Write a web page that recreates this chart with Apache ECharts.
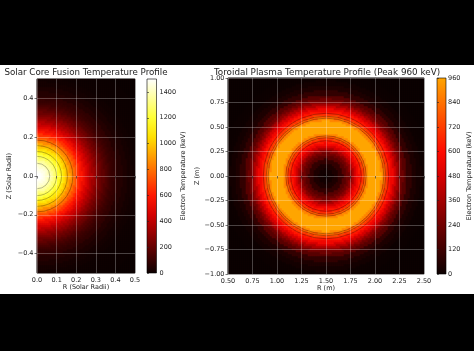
<!DOCTYPE html>
<html>
<head>
<meta charset="utf-8">
<script src="https://cdn.jsdelivr.net/npm/echarts@6/dist/echarts.min.js"></script>
<style>
  html, body { margin: 0; padding: 0; background: #000; }
  #band { position: absolute; left: 0; top: 65px; width: 474px; height: 229px; background: #fff; }
  #main { position: absolute; left: 0; top: 0; width: 474px; height: 351px; }
</style>
</head>
<body>
<div id="band"></div>
<div id="main"></div>
<script>
// ---- left panel: solar core, temperature read along the radius from (0,0)
var coreRadius = [0, 0.0125, 0.025, 0.0375, 0.05, 0.0625, 0.075, 0.0875, 0.1, 0.1125, 0.125, 0.1375,
    0.15, 0.1625, 0.175, 0.1875, 0.2, 0.2125, 0.225, 0.2375, 0.25, 0.2625, 0.275, 0.2875,
    0.3, 0.3125, 0.325, 0.3375, 0.35, 0.3625, 0.375, 0.3875, 0.4, 0.425, 0.45, 0.475,
    0.5, 0.525, 0.55, 0.575, 0.6, 0.65, 0.7, 0.75];
var coreTemp = [1500, 1496, 1483, 1462, 1434, 1397, 1355, 1306, 1251, 1193, 1131, 1066,
    998, 930, 861, 794, 727, 662, 599, 540, 484, 431, 381, 335,
    294, 256, 221, 191, 163, 139, 117, 99, 83, 57, 38, 25,
    16, 10, 6, 4, 2, 1, 0, 0];
var coreCenter = [0, 0];
var coreContours = [0.065, 0.1, 0.125, 0.155, 0.183];
var coreXTicks = [0, 0.1, 0.2, 0.3, 0.4, 0.5];
var coreYTicks = [-0.4, -0.2, 0, 0.2, 0.4];
var coreCbarTicks = [0, 200, 400, 600, 800, 1000, 1200, 1400];

// ---- right panel: torus, temperature read along the distance from (1.5,0)
var torusDist = [0, 0.05, 0.1, 0.15, 0.2, 0.225, 0.25, 0.275, 0.3, 0.325, 0.35, 0.375, 0.4, 0.425,
    0.45, 0.5, 0.55, 0.575, 0.6, 0.625, 0.65, 0.675, 0.7, 0.725, 0.75, 0.775, 0.8,
    0.85, 0.9, 0.95, 1.0, 1.05, 1.1, 1.15, 1.2, 1.5];
var torusTemp = [5, 18, 45, 95, 180, 235, 300, 380, 470, 555, 625, 700, 790, 890,
    960, 960, 960, 890, 790, 700, 625, 555, 470, 380, 300, 235, 180,
    95, 45, 20, 6, 2, 1, 0, 0, 0];
var torusCenter = [1.5, 0];
var torusContours = [0.36, 0.39, 0.41, 0.59, 0.61, 0.64];
var torusXTicks = [0.5, 0.75, 1.0, 1.25, 1.5, 1.75, 2.0, 2.25, 2.5];
var torusYTicks = [-1, -0.75, -0.5, -0.25, 0, 0.25, 0.5, 0.75, 1];
var torusCbarTicks = [0, 120, 240, 360, 480, 600, 720, 840, 960];

// matplotlib 'hot', full and cut at 960 keV
var hotColors = ['#0b0000', '#4d0000', '#910000', '#d40000', '#ff1700', '#ff5a00',
    '#ff9d00', '#ffe000', '#ffff36', '#ffff9b', '#ffffff'];
var hotCutColors = ['#0b0000', '#3e0000', '#710000', '#a40000', '#d70000', '#ff0b00',
    '#ff3e00', '#ff7200', '#ffa500'];

var FONT = 'DejaVu Sans';
var TXT = '#222';

function nearest(radii, temps, d) {
    var best = 0;
    for (var k = 1; k < radii.length; k++) {
        if (Math.abs(radii[k] - d) < Math.abs(radii[best] - d)) best = k;
    }
    return temps[best];
}

// heatmap cells, each cell takes the read value nearest its distance
function buildField(xr, yr, nx, ny, center, radii, temps) {
    var out = [];
    for (var i = 0; i < nx; i++) {
        for (var j = 0; j < ny; j++) {
            var x = xr[0] + (i + 0.5) * (xr[1] - xr[0]) / nx;
            var y = yr[0] + (j + 0.5) * (yr[1] - yr[0]) / ny;
            var d = Math.sqrt((x - center[0]) * (x - center[0]) + (y - center[1]) * (y - center[1]));
            out.push([i, j, nearest(radii, temps, d)]);
        }
    }
    return out;
}
function idx(n) { var a = []; for (var i = 0; i < n; i++) a.push(i); return a; }

var coreNX = 49, coreNY = 97, torusNX = 98, torusNY = 98;
var coreField = buildField([0, 0.5], [-0.5, 0.5], coreNX, coreNY, coreCenter, coreRadius, coreTemp);
var torusField = buildField([0.5, 2.5], [-1, 1], torusNX, torusNY, torusCenter, torusDist, torusTemp);

function fmt(dec) {
    return function (v) { return Number(v).toFixed(dec).replace('-', '\u2212'); };
}

function ringItem(center, half) {
    return function (params, api) {
        var c = api.coord(center);
        var r = api.size([api.value(0), 0])[0];
        return {
            type: 'arc',
            shape: { cx: c[0], cy: c[1], r: r,
                startAngle: half ? -Math.PI / 2 : 0, endAngle: half ? Math.PI / 2 : Math.PI * 2 },
            style: { stroke: 'rgba(0,0,0,0.4)', fill: 'none', lineWidth: 0.7 }
        };
    };
}

function plotAxis(grid, min, max, ticks, dec, name, gap, moveName) {
    return {
        type: 'value', gridIndex: grid, min: min, max: max, z: 3,
        name: name, nameLocation: 'middle', nameGap: gap, nameMoveOverlap: moveName,
        nameTextStyle: { fontFamily: FONT, fontSize: 6.5, color: TXT },
        axisLine: { show: false },
        axisTick: { show: true, length: 2.5, customValues: ticks, lineStyle: { color: TXT, width: 0.6 } },
        axisLabel: { customValues: ticks, formatter: fmt(dec), fontFamily: FONT, fontSize: 6.5, color: TXT, margin: 3.5 },
        splitLine: { show: true, lineStyle: { color: 'rgba(255,255,255,0.33)', width: 0.8 } }
    };
}
function hiddenCat(grid, n) {
    return { type: 'category', gridIndex: grid, data: idx(n), show: false };
}
function cbarAxis(grid, max, ticks, gap) {
    return {
        type: 'value', gridIndex: grid, position: 'right', min: 0, max: max, z: 3,
        name: 'Electron Temperature (keV)', nameLocation: 'middle', nameRotate: 90, nameGap: gap,
        nameTextStyle: { fontFamily: FONT, fontSize: 6.5, color: TXT },
        axisLine: { show: false },
        axisTick: { show: true, length: 2, customValues: ticks, lineStyle: { color: TXT, width: 0.6 } },
        axisLabel: { customValues: ticks, formatter: function (v) { return String(v); },
            fontFamily: FONT, fontSize: 6.5, color: TXT, margin: 3 },
        splitLine: { show: false }
    };
}
// colour bar body, gradient built from the same colour list as the visualMap
function cbarRect(x, y, w, h, colors) {
    var stops = colors.map(function (c, i) { return { offset: i / (colors.length - 1), color: c }; });
    return {
        type: 'rect', z: 2,
        shape: { x: x, y: y, width: w, height: h },
        style: { fill: new echarts.graphic.LinearGradient(0, 1, 0, 0, stops), stroke: '#000', lineWidth: 0.6 }
    };
}

var chart = echarts.init(document.getElementById('main'));
chart.setOption({
    animation: false,
    graphic: [
        { type: 'text', x: 86, y: 73, style: { text: 'Solar Core Fusion Temperature Profile',
            font: '8.7px "DejaVu Sans"', fill: TXT, align: 'center', verticalAlign: 'middle' } },
        { type: 'text', x: 327, y: 73, style: { text: 'Toroidal Plasma Temperature Profile (Peak 960 keV)',
            font: '8.8px "DejaVu Sans"', fill: TXT, align: 'center', verticalAlign: 'middle' } },
        cbarRect(147, 79, 9.5, 194, hotColors),
        cbarRect(437, 78, 9, 196, hotCutColors)
    ],
    grid: [
        { left: 37, top: 79, width: 98, height: 194, show: true, borderColor: '#000', borderWidth: 0.6, backgroundColor: 'transparent' },
        { left: 147, top: 79, width: 9.5, height: 194, show: false },
        { left: 228, top: 78, width: 196, height: 196, show: true, borderColor: '#000', borderWidth: 0.6, backgroundColor: 'transparent' },
        { left: 437, top: 78, width: 9, height: 196, show: false }
    ],
    xAxis: [
        plotAxis(0, 0, 0.5, coreXTicks, 1, 'R (Solar Radii)', 11, false),
        hiddenCat(0, coreNX),
        { type: 'value', gridIndex: 1, show: false },
        plotAxis(2, 0.5, 2.5, torusXTicks, 2, 'R (m)', 11, false),
        hiddenCat(2, torusNX),
        { type: 'value', gridIndex: 3, show: false }
    ],
    yAxis: [
        plotAxis(0, -0.5, 0.5, coreYTicks, 1, 'Z (Solar Radii)', 24, true),
        hiddenCat(0, coreNY),
        cbarAxis(1, 1500, coreCbarTicks, 22),
        plotAxis(2, -1, 1, torusYTicks, 2, 'Z (m)', 26, true),
        hiddenCat(2, torusNY),
        cbarAxis(3, 960, torusCbarTicks, 21)
    ],
    visualMap: [
        { type: 'continuous', show: false, seriesIndex: 0, dimension: 2, min: 0, max: 1500,
          inRange: { color: hotColors } },
        { type: 'continuous', show: false, seriesIndex: 2, dimension: 2, min: 0, max: 960,
          inRange: { color: hotCutColors } }
    ],
    series: [
        { type: 'heatmap', xAxisIndex: 1, yAxisIndex: 1, data: coreField, progressive: 0,
          itemStyle: { borderWidth: 0 }, emphasis: { disabled: true }, z: 1 },
        { type: 'custom', xAxisIndex: 0, yAxisIndex: 0, z: 2, silent: true,
          data: coreContours.map(function (r) { return [r, 0]; }),
          renderItem: ringItem(coreCenter, true) },
        { type: 'heatmap', xAxisIndex: 4, yAxisIndex: 4, data: torusField, progressive: 0,
          itemStyle: { borderWidth: 0 }, emphasis: { disabled: true }, z: 1 },
        { type: 'custom', xAxisIndex: 3, yAxisIndex: 3, z: 2, silent: true,
          data: torusContours.map(function (r) { return [r, 0]; }),
          renderItem: ringItem(torusCenter, false) }
    ]
});
</script>
</body>
</html>
